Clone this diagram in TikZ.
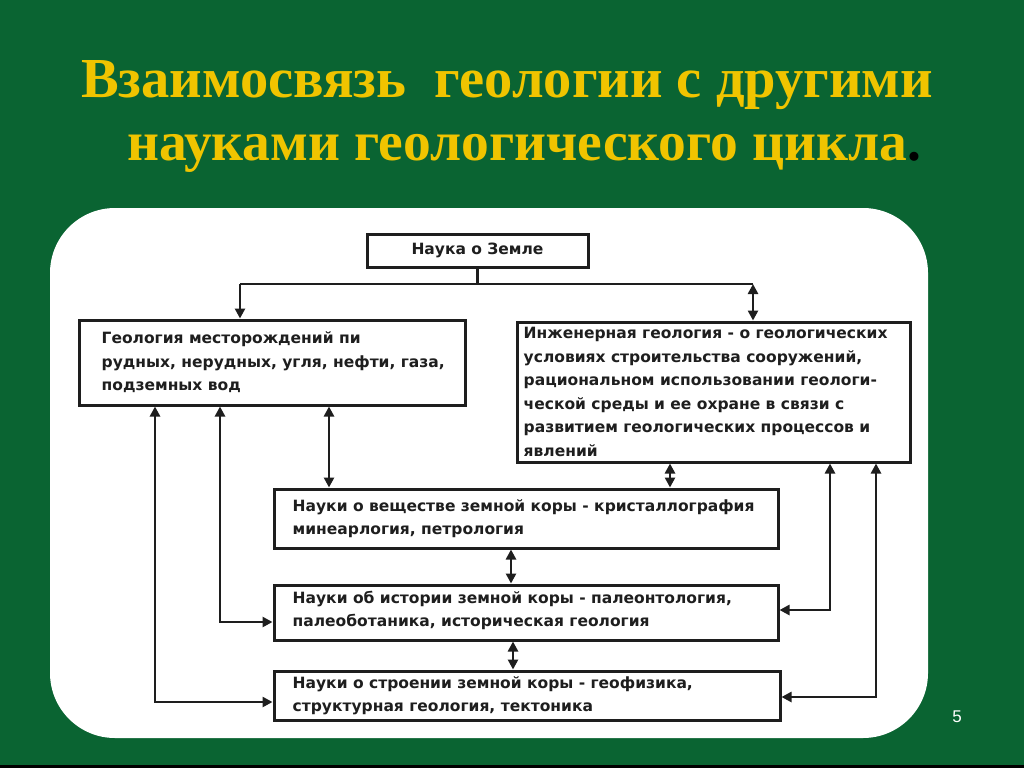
\documentclass[tikz,border=0pt]{standalone}
\usepackage{fontspec}
\setmainfont{Liberation Serif}
\newfontfamily\boxfont{DejaVu Sans}
\newfontfamily\numfont{Liberation Sans}
\usetikzlibrary{arrows.meta}
\definecolor{bggreen}{RGB}{10,100,50}
\definecolor{titlegold}{RGB}{240,196,0}
\definecolor{ink}{RGB}{30,30,30}
\tikzset{
  box/.style={draw=ink, line width=3pt, fill=white, inner sep=0pt},
  boxtext/.style={anchor=west, align=left, inner sep=0pt, text=ink,
    font=\boxfont\bfseries\fontsize{15.5}{23.5}\selectfont},
  link/.style={draw=ink, line width=2.6pt},
  tip/.style={-{Triangle[length=10pt,width=10pt]}},
  tips/.style={{Triangle[length=10pt,width=10pt]}-{Triangle[length=10pt,width=10pt]}},
  titletext/.style={anchor=base, inner sep=0pt, text=titlegold,
    font=\bfseries\fontsize{56.5}{60}\selectfont}
}
\begin{document}
\begin{tikzpicture}[x=1pt,y=-1pt]
\useasboundingbox (0,0) rectangle (1024,768);
\fill[bggreen] (0,0) rectangle (1024,768);
\fill[black] (0,765) rectangle (1024,768);
\fill[white, rounded corners=65pt] (50,208) rectangle (928,738);

\node[titletext] (t1) at (507,97) {Взаимосвязь\ \ геологии с другими};
\node[titletext, font=\bfseries\fontsize{55.5}{60}\selectfont] (t2) at (524,160) {науками геологического цикла\textcolor{black}{.}};

\node[box, minimum width=221pt, minimum height=33pt] (b1) at (477.5,250.5) {};
\node[boxtext, anchor=center] (tb1) at (b1.center) {Наука о Земле};

\node[box, minimum width=386pt, minimum height=85pt] (b2) at (272,362.5) {};
\node[boxtext] (tb2) at ([xshift=24pt]b2.west) {Геология месторождений пи\\рудных, нерудных, угля, нефти, газа,\\подземных вод};

\node[box, minimum width=393pt, minimum height=140pt] (b3) at (713.5,392) {};
\node[boxtext] (tb3) at ([xshift=8pt]b3.west) {Инженерная геология - о геологических\\условиях строительства сооружений,\\рациональном использовании геологи-\\ческой среды и ее охране в связи с\\развитием геологических процессов и\\явлений};

\node[box, minimum width=504pt, minimum height=59pt] (b4) at (526,518.5) {};
\node[boxtext] (tb4) at ([xshift=20pt]b4.west) {Науки о веществе земной коры - кристаллография\\минеарлогия, петрология};

\node[box, minimum width=504pt, minimum height=55pt] (b5) at (526,612.5) {};
\node[boxtext] (tb5) at ([xshift=20pt,yshift=2pt]b5.west) {Науки об истории земной коры - палеонтология,\\палеоботаника, историческая геология};

\node[box, minimum width=506pt, minimum height=49pt] (b6) at (527,695.5) {};
\node[boxtext] (tb6) at ([xshift=20pt]b6.west) {Науки о строении земной коры - геофизика,\\структурная геология, тектоника};

\node[anchor=center, inner sep=0pt, text=white, font=\numfont\fontsize{17}{20}\selectfont] (pn) at (957,717) {5};

% connectors
\coordinate (jl) at (240,284);
\coordinate (jr) at (753,284);
\draw[link] (b1.south) -- (b1.south |- jl);
\draw[link] (jl) -- (jr);
\draw[link, tip] (jl) -- (jl |- b2.north);
\draw[link, tips] (jr) -- (jr |- b3.north);

\coordinate (c1) at (155,702);
\coordinate (c2) at (220,622);
\coordinate (c3) at (329,450);
\coordinate (c4) at (670,475);
\coordinate (c5) at (511,566);
\coordinate (c6) at (513,655);
\coordinate (c7) at (830,610);
\coordinate (c8) at (876,697);

\draw[link, tips] (b2.south -| c1) -- (c1) -- (c1 -| b6.west);
\draw[link, tips] (b2.south -| c2) -- (c2) -- (c2 -| b5.west);
\draw[link, tips] (b2.south -| c3) -- (b4.north -| c3);
\draw[link, tips] (b3.south -| c4) -- (b4.north -| c4);
\draw[link, tips] (b4.south -| c5) -- (b5.north -| c5);
\draw[link, tips] (b5.south -| c6) -- (b6.north -| c6);
\draw[link, tips] (b3.south -| c7) -- (c7) -- (c7 -| b5.east);
\draw[link, tips] (b3.south -| c8) -- (c8) -- (c8 -| b6.east);
\end{tikzpicture}
\end{document}
